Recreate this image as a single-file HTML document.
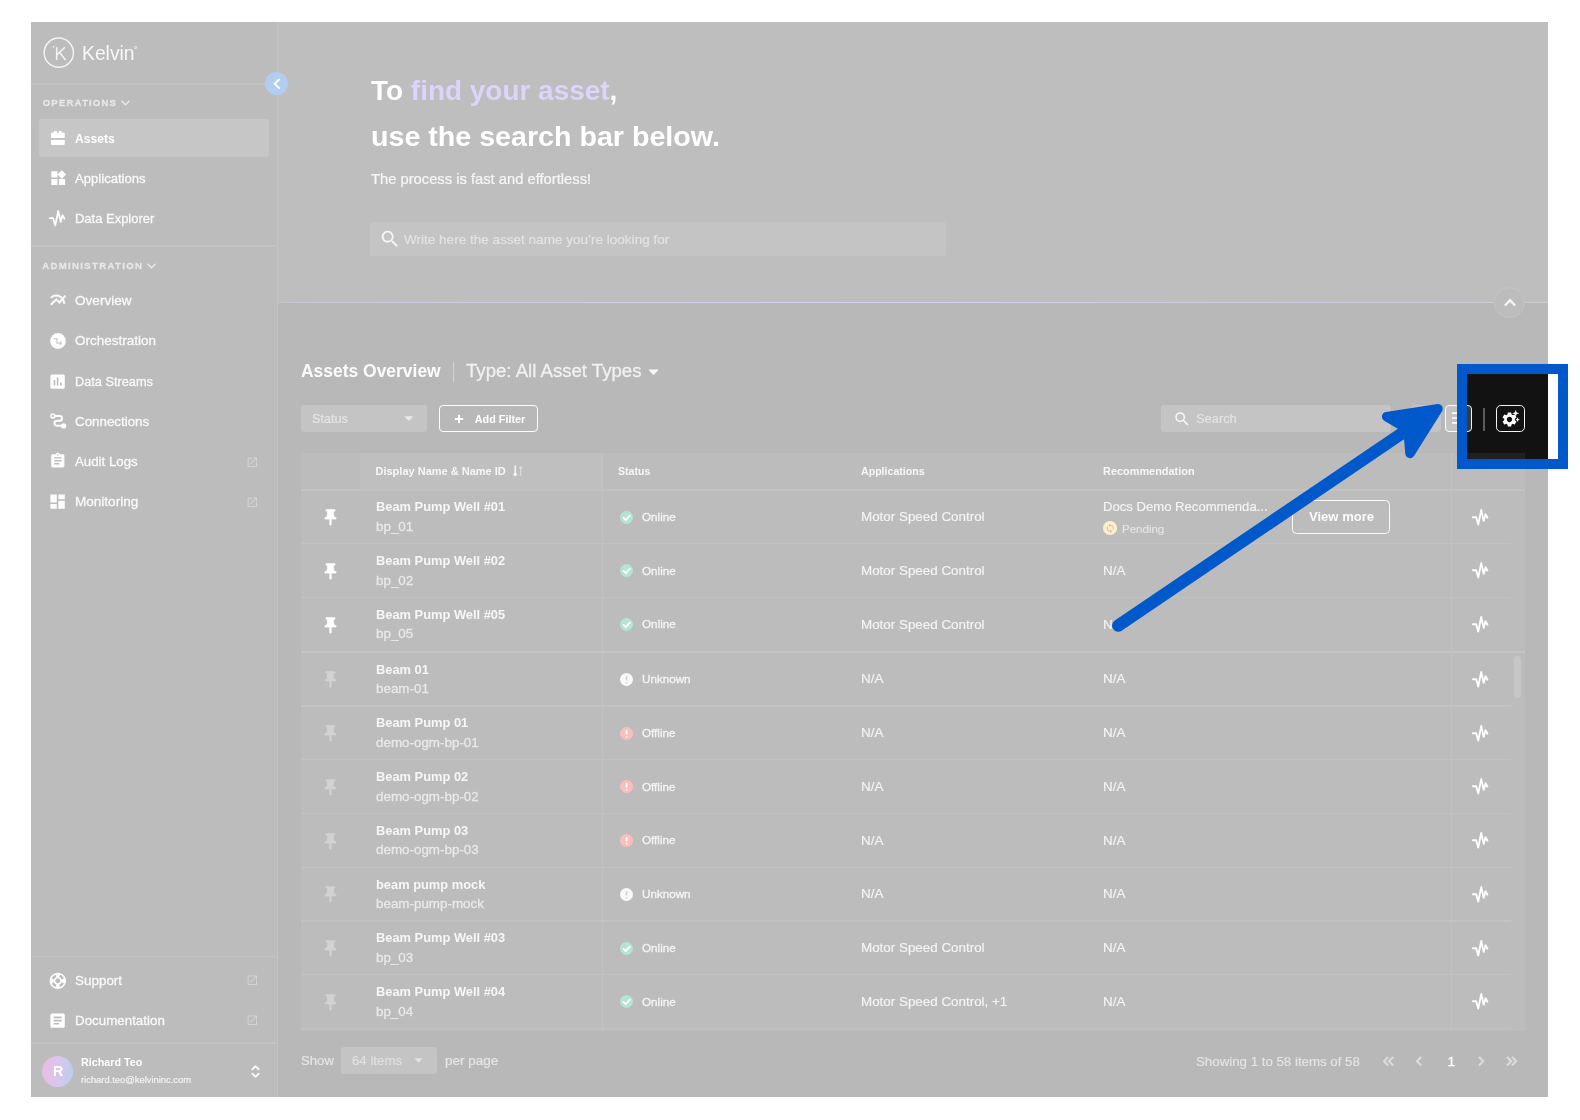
<!DOCTYPE html>
<html lang="en"><head><meta charset="utf-8"><title>Kelvin - Assets Overview</title>
<style>
html,body{margin:0;padding:0;background:#fff;}
body{width:1580px;height:1120px;position:relative;overflow:hidden;font-family:"Liberation Sans",sans-serif;}
#app{position:absolute;left:31px;top:22px;width:1517px;height:1075px;overflow:hidden;z-index:0;}
#in{position:absolute;left:-31px;top:-22px;width:1580px;height:1120px;will-change:transform;filter:blur(.42px);}
.a{position:absolute;display:block;}
.t{position:absolute;display:block;white-space:nowrap;transform-origin:0 50%;}
</style></head>
<body>
<div id="app"><div id="in">
<div class="a" style="left:31.00px;top:22.00px;width:1517.00px;height:1075.00px;background:#121212;"></div>
<div class="a" style="left:278.00px;top:22.00px;width:1270.00px;height:280.50px;background:#272727;"></div>
<div class="a" style="left:278.00px;top:301.90px;width:1270.00px;height:1.50px;background:linear-gradient(90deg,rgba(125,115,200,.3) 0%,rgba(125,105,230,.7) 15%,rgba(125,105,230,.9) 50%,rgba(125,105,230,.6) 80%,rgba(130,125,170,.5) 94%,rgba(130,130,130,.5) 100%);"></div>
<div class="a" style="left:31.00px;top:22.00px;width:246.00px;height:1075.00px;background:#1f1f1f;"></div>
<div class="a" style="left:276.90px;top:22.00px;width:1.60px;height:1075.00px;background:#383838;"></div>
<div class="a" style="left:31.00px;top:83.10px;width:246.00px;height:1.60px;background:#343434;"></div>
<div class="a" style="left:31.00px;top:245.30px;width:246.00px;height:1.60px;background:#343434;"></div>
<div class="a" style="left:31.00px;top:955.50px;width:246.00px;height:1.60px;background:#343434;"></div>
<div class="a" style="left:31.00px;top:1042.30px;width:246.00px;height:1.60px;background:#343434;"></div>
<svg class="a" style="left:40.00px;top:34.00px;opacity:.82;" width="40.00" height="40.00" viewBox="0 0 40 40"><circle cx="18.8" cy="18.7" r="14.6" fill="none" stroke="#fff" stroke-width="1.45"/><path d="M16.7 13.2V25.9M17 20.8L24.9 13.2M19.6 18.6L25.5 25.9" fill="none" stroke="#fff" stroke-width="1.55"/><circle cx="13.6" cy="12.9" r=".8" fill="#fff"/></svg>
<span class="t" style="left:82.00px;top:39.07px;font-size:20.8px;line-height:27.04px;color:#e6e6e6;transform:scaleX(0.9284);-webkit-text-stroke:0;">Kelvin</span>
<div class="a" style="left:134.20px;top:46.20px;width:2.60px;height:2.60px;border-radius:50%;border:.7px solid #d0d0d0;box-sizing:border-box;"></div>
<div class="a" style="left:265.20px;top:72.00px;width:23.00px;height:23.00px;background:#0059cc;border-radius:50%;z-index:5;"></div>
<svg class="a" style="left:270.70px;top:77.50px;z-index:6;" width="12.00" height="12.00" viewBox="0 0 12 12"><path d="M8.100 1.500L3.700 5.800l4.400 4.300" fill="none" stroke="#fff" stroke-width="1.900" stroke-linecap="round" stroke-linejoin="round"/></svg>
<span class="t" style="left:42.70px;top:97.43px;font-size:9.6px;line-height:12.48px;color:#b2b2b2;font-weight:700;letter-spacing:1.171px;-webkit-text-stroke:.3px #b2b2b2;">OPERATIONS</span>
<svg class="a" style="left:121.00px;top:100.20px;" width="9.00" height="7.00" viewBox="0 0 9 7"><path d="M1 1.300l3.500 3.500L8 1.300" fill="none" stroke="#b2b2b2" stroke-width="1.5" stroke-linecap="round" stroke-linejoin="round"/></svg>
<span class="t" style="left:42.30px;top:259.73px;font-size:9.6px;line-height:12.48px;color:#b2b2b2;font-weight:700;letter-spacing:1.317px;-webkit-text-stroke:.3px #b2b2b2;">ADMINISTRATION</span>
<svg class="a" style="left:146.60px;top:262.50px;" width="9.00" height="7.00" viewBox="0 0 9 7"><path d="M1 1.300l3.500 3.500L8 1.300" fill="none" stroke="#b2b2b2" stroke-width="1.5" stroke-linecap="round" stroke-linejoin="round"/></svg>
<div class="a" style="left:38.50px;top:118.80px;width:230.60px;height:38.50px;background:#404040;border-radius:3.5px;"></div>
<span class="t" style="left:75.30px;top:129.55px;font-size:13.7px;line-height:17.81px;color:#fff;font-weight:700;transform:scaleX(0.8835);">Assets</span>
<span class="t" style="left:75.30px;top:169.85px;font-size:13.7px;line-height:17.81px;color:#ececec;transform:scaleX(0.9570);-webkit-text-stroke:.3px #ececec;">Applications</span>
<span class="t" style="left:75.30px;top:210.35px;font-size:13.7px;line-height:17.81px;color:#ececec;transform:scaleX(0.9479);-webkit-text-stroke:.3px #ececec;">Data Explorer</span>
<span class="t" style="left:75.30px;top:291.95px;font-size:13.7px;line-height:17.81px;color:#ececec;transform:scaleX(0.9931);-webkit-text-stroke:.3px #ececec;">Overview</span>
<span class="t" style="left:75.30px;top:332.35px;font-size:13.7px;line-height:17.81px;color:#ececec;transform:scaleX(0.9850);-webkit-text-stroke:.3px #ececec;">Orchestration</span>
<span class="t" style="left:75.30px;top:372.55px;font-size:13.7px;line-height:17.81px;color:#ececec;transform:scaleX(0.9313);-webkit-text-stroke:.3px #ececec;">Data Streams</span>
<span class="t" style="left:75.30px;top:412.95px;font-size:13.7px;line-height:17.81px;color:#ececec;transform:scaleX(0.9742);-webkit-text-stroke:.3px #ececec;">Connections</span>
<span class="t" style="left:75.30px;top:453.15px;font-size:13.7px;line-height:17.81px;color:#ececec;transform:scaleX(0.9700);-webkit-text-stroke:.3px #ececec;">Audit Logs</span>
<span class="t" style="left:75.30px;top:493.35px;font-size:13.7px;line-height:17.81px;color:#ececec;transform:scaleX(0.9896);-webkit-text-stroke:.3px #ececec;">Monitoring</span>
<span class="t" style="left:75.30px;top:971.65px;font-size:13.7px;line-height:17.81px;color:#ececec;transform:scaleX(0.9816);-webkit-text-stroke:.3px #ececec;">Support</span>
<span class="t" style="left:75.30px;top:1011.75px;font-size:13.7px;line-height:17.81px;color:#ececec;transform:scaleX(0.9756);-webkit-text-stroke:.3px #ececec;">Documentation</span>
<svg class="a" style="left:51.00px;top:131.00px;" width="13.75" height="14.00" viewBox="0 0 13.750 14"><path fill="#fff" d="M0.600 1.750H2.300L3 0.100H5.500L6.900 2.900 8.300 0.100H10.700L11.400 1.750H13.150a.6.600 0 0 1 .6.600V7H0V2.350a.6.600 0 0 1 .6-.6zM0 8.900H13.750V13a1 1 0 0 1-1 1H1a1 1 0 0 1-1-1z"/></svg>
<svg class="a" style="left:48.80px;top:169.00px;" width="18.40" height="18.40" viewBox="0 0 24 24"><path fill="#fbfbfb" d="M13 13v8h8v-8h-8zM3 21h8v-8H3v8zM3 3v8h8V3H3zm13.66-1.31L11 7.34 16.66 13l5.66-5.66-5.66-5.65z"/></svg>
<svg class="a" style="left:48.40px;top:209.30px;" width="19.00" height="19.00" viewBox="0 0 20 20"><path d="M2 9.700H5.450L7.600 17.400 10.800 2.100 13.300 13.600 15.300 6.450 17.300 10.200" fill="none" stroke="#fbfbfb" stroke-width="1.9" stroke-linecap="round" stroke-linejoin="round"/></svg>
<svg class="a" style="left:48.80px;top:291.40px;" width="18.40" height="18.40" viewBox="0 0 24 24"><path fill="#fbfbfb" stroke="#fbfbfb" stroke-width=".7" d="M22 6.920l-1.410-1.410-2.850 3.210C15.680 6.400 12.830 5 9.610 5 6.720 5 4.070 6.160 2 8l1.420 1.420C5.120 7.930 7.270 7 9.610 7c2.740 0 5.090 1.260 6.770 3.240l-2.880 3.240-4-4L2 16.990l1.500 1.500 6-6.010 4 4 4.050-4.550c.75 1.350 1.250 2.900 1.440 4.550H21c-.22-2.300-.95-4.390-2.040-6.140L22 6.920z"/></svg>
<svg class="a" style="left:50.00px;top:333.00px;" width="16.00" height="16.00" viewBox="0 0 16 16"><circle cx="8" cy="8" r="7.900" fill="#fbfbfb"/><path d="M3.700 5.600H7V10.200H11.300M9.900 8.600l1.600 1.600-1.600 1.600" fill="none" stroke="#5a5a5a" stroke-width="1.250" stroke-linejoin="round"/></svg>
<svg class="a" style="left:48.40px;top:371.60px;" width="19.20" height="19.20" viewBox="0 0 24 24"><path fill="#fbfbfb" d="M19 3H5c-1.1 0-2 .9-2 2v14c0 1.1.9 2 2 2h14c1.1 0 2-.9 2-2V5c0-1.1-.9-2-2-2zM9 17H7v-7h2v7zm4 0h-2V7h2v10zm4 0h-2v-4h2v4z"/></svg>
<svg class="a" style="left:49.50px;top:413.40px;" width="17.00" height="17.00" viewBox="0 0 17 17"><circle cx="2.900" cy="3" r="1.900" fill="none" stroke="#fbfbfb" stroke-width="1.500"/><path d="M4.800 3H9.600a2.400 2.400 0 0 1 0 4.800H7a2.500 2.500 0 0 0 0 5h4.500" fill="none" stroke="#fbfbfb" stroke-width="1.900"/><circle cx="13.600" cy="12.900" r="2.700" fill="#fbfbfb"/></svg>
<svg class="a" style="left:49.20px;top:452.20px;" width="17.60" height="17.60" viewBox="0 0 24 24"><path fill="#fbfbfb" d="M19 3h-4.18C14.4 1.84 13.3 1 12 1c-1.3 0-2.4.84-2.82 2H5c-1.1 0-2 .9-2 2v14c0 1.1.9 2 2 2h14c1.1 0 2-.9 2-2V5c0-1.1-.9-2-2-2zm-7 0c.55 0 1 .45 1 1s-.45 1-1 1-1-.45-1-1 .45-1 1-1zm2 14H7v-2h7v2zm3-4H7v-2h10v2zm0-4H7V7h10v2z"/></svg>
<svg class="a" style="left:48.40px;top:492.40px;" width="19.20" height="19.20" viewBox="0 0 24 24"><path fill="#fbfbfb" d="M3 13h8V3H3v10zm0 8h8v-6H3v6zm10 0h8V11h-8v10zm0-18v6h8V3h-8z"/></svg>
<svg class="a" style="left:48.10px;top:970.50px;" width="19.60" height="19.60" viewBox="0 0 24 24"><path fill="#fbfbfb" d="M12 2C6.48 2 2 6.48 2 12s4.48 10 10 10 10-4.48 10-10S17.52 2 12 2zm7.46 7.12l-2.78 1.15c-.51-1.36-1.58-2.44-2.95-2.94l1.15-2.78c2.1.8 3.77 2.47 4.58 4.57zM12 15c-1.66 0-3-1.34-3-3s1.34-3 3-3 3 1.34 3 3-1.34 3-3 3zM9.13 4.54l1.17 2.78c-1.38.5-2.47 1.59-2.98 2.97L4.54 9.13c.81-2.11 2.48-3.78 4.59-4.59zM4.54 14.87l2.78-1.15c.51 1.38 1.59 2.46 2.97 2.96l-1.17 2.78c-2.1-.81-3.77-2.48-4.58-4.59zm10.34 4.59l-1.15-2.78c1.37-.51 2.45-1.59 2.95-2.97l2.78 1.17c-.81 2.1-2.48 3.77-4.58 4.58z"/></svg>
<svg class="a" style="left:48.40px;top:1010.70px;" width="19.20" height="19.20" viewBox="0 0 24 24"><path fill="#fbfbfb" d="M19 3H5c-1.1 0-2 .9-2 2v14c0 1.1.9 2 2 2h14c1.1 0 2-.9 2-2V5c0-1.1-.9-2-2-2zm-5 14H7v-2h7v2zm3-4H7v-2h10v2zm0-4H7V7h10v2z"/></svg>
<svg class="a" style="left:245.90px;top:455.50px;" width="12.60" height="12.60" viewBox="0 0 24 24"><path fill="#707070" d="M19 19H5V5h7V3H5c-1.11 0-2 .9-2 2v14c0 1.1.89 2 2 2h14c1.1 0 2-.9 2-2v-7h-2v7zM14 3v2h3.59l-9.83 9.83 1.41 1.41L19 6.41V10h2V3h-7z"/></svg>
<svg class="a" style="left:245.90px;top:495.70px;" width="12.60" height="12.60" viewBox="0 0 24 24"><path fill="#707070" d="M19 19H5V5h7V3H5c-1.11 0-2 .9-2 2v14c0 1.1.89 2 2 2h14c1.1 0 2-.9 2-2v-7h-2v7zM14 3v2h3.59l-9.83 9.83 1.41 1.41L19 6.41V10h2V3h-7z"/></svg>
<svg class="a" style="left:245.90px;top:974.00px;" width="12.60" height="12.60" viewBox="0 0 24 24"><path fill="#707070" d="M19 19H5V5h7V3H5c-1.11 0-2 .9-2 2v14c0 1.1.89 2 2 2h14c1.1 0 2-.9 2-2v-7h-2v7zM14 3v2h3.59l-9.83 9.83 1.41 1.41L19 6.41V10h2V3h-7z"/></svg>
<svg class="a" style="left:245.90px;top:1014.10px;" width="12.60" height="12.60" viewBox="0 0 24 24"><path fill="#707070" d="M19 19H5V5h7V3H5c-1.11 0-2 .9-2 2v14c0 1.1.89 2 2 2h14c1.1 0 2-.9 2-2v-7h-2v7zM14 3v2h3.59l-9.83 9.83 1.41 1.41L19 6.41V10h2V3h-7z"/></svg>
<div class="a" style="left:42.10px;top:1055.70px;width:31.00px;height:31.00px;border-radius:50%;background:linear-gradient(95deg,#bc1aaa 0%,#8440bc 50%,#1456d0 100%);"></div>
<span class="t" style="left:52.90px;top:1062.05px;font-size:14.2px;line-height:18.46px;color:#fff;font-weight:700;">R</span>
<span class="t" style="left:81.00px;top:1055.24px;font-size:11px;line-height:14.3px;color:#fff;font-weight:700;transform:scaleX(0.9769);">Richard Teo</span>
<span class="t" style="left:81.00px;top:1074.83px;font-size:9.2px;line-height:11.96px;color:#d8d8d8;-webkit-text-stroke:.22px #d8d8d8;transform:scaleX(1.0192);">richard.teo@kelvininc.com</span>
<svg class="a" style="left:250.40px;top:1063.80px;" width="11.00" height="15.00" viewBox="0 0 11 15"><path d="M2.300 5.400L5.500 2.200l3.200 3.200M2.300 9.600l3.200 3.200 3.200-3.200" fill="none" stroke="#f0f0f0" stroke-width="1.800" stroke-linecap="round" stroke-linejoin="round"/></svg>
<span class="t" style="left:370.6px;top:72.90px;font-size:27.6px;line-height:35.88px;color:#fff;font-weight:700;transform:scaleX(1.0126);">To <span style="color:#8f6bf3">find your asset</span>,</span>
<span class="t" style="left:370.60px;top:119.00px;font-size:27.6px;line-height:35.88px;color:#fff;font-weight:700;transform:scaleX(1.0374);">use the search bar below.</span>
<span class="t" style="left:370.60px;top:170.15px;font-size:14.2px;line-height:18.46px;color:#e2e2e2;-webkit-text-stroke:.22px #e2e2e2;transform:scaleX(1.0389);">The process is fast and effortless!</span>
<div class="a" style="left:370.20px;top:221.60px;width:575.80px;height:34.50px;background:#3a3a3a;border-radius:3px;"></div>
<svg class="a" style="left:378.90px;top:228.30px;" width="22.00" height="22.00" viewBox="0 0 24 24"><path fill="#dedede" d="M15.5 14h-.79l-.28-.27C15.41 12.59 16 11.11 16 9.5 16 5.91 13.09 3 9.5 3S3 5.91 3 9.5 5.91 16 9.5 16c1.61 0 3.09-.59 4.23-1.57l.27.28v.79l5 4.99L20.49 19l-4.99-5zm-6 0C7.01 14 5 11.99 5 9.5S7.01 5 9.5 5 14 7.01 14 9.5 11.99 14 9.5 14z"/></svg>
<span class="t" style="left:403.50px;top:231.74px;font-size:12.8px;line-height:16.64px;color:#a2a2a2;-webkit-text-stroke:.22px #a2a2a2;transform:scaleX(1.0573);">Write here the asset name you’re looking for</span>
<div class="a" style="left:1494.10px;top:287.00px;width:30.80px;height:30.80px;background:#1f1f1f;border-radius:50%;border:1.100px solid #383838;box-sizing:border-box;"></div>
<svg class="a" style="left:1502.50px;top:297.00px;" width="14.00" height="11.00" viewBox="0 0 14 11"><path d="M1.900 8.500L7 3.300l5.100 5.200" fill="none" stroke="#dcdcdc" stroke-width="2.400"/></svg>
<span class="t" style="left:300.90px;top:360.26px;font-size:17.6px;line-height:22.88px;color:#f2f2f2;font-weight:700;transform:scaleX(0.9916);">Assets Overview</span>
<div class="a" style="left:452.60px;top:362.00px;width:1.40px;height:19.50px;background:#666666;"></div>
<span class="t" style="left:465.70px;top:359.86px;font-size:18px;line-height:23.4px;color:#d0d0d0;transform:scaleX(1.0338);-webkit-text-stroke:.3px #d0d0d0;">Type: All Asset Types</span>
<svg class="a" style="left:647.80px;top:368.90px;" width="11.00" height="6.60" viewBox="0 0 10 6"><path d="M0.300 0.400h9.400L5 5.600z" fill="#ececec"/></svg>
<div class="a" style="left:300.90px;top:405.20px;width:126.50px;height:26.40px;background:#3a3a3a;border-radius:3px;"></div>
<span class="t" style="left:311.50px;top:410.54px;font-size:12.4px;line-height:16.12px;color:#aaaaaa;-webkit-text-stroke:.22px #aaaaaa;transform:scaleX(1.0155);">Status</span>
<svg class="a" style="left:404.40px;top:416.40px;" width="9.60" height="5.40" viewBox="0 0 9 5"><path d="M0.300 0.300h8.400L4.500 4.700z" fill="#b4b4b4"/></svg>
<div class="a" style="left:439.00px;top:404.90px;width:99.00px;height:26.80px;border:1.600px solid #f6f6f6;border-radius:4px;box-sizing:border-box;"></div>
<svg class="a" style="left:454.40px;top:413.60px;" width="10.00" height="10.00" viewBox="0 0 10 10"><path d="M5 0.800v8.400M0.800 5h8.400" stroke="#fff" stroke-width="1.900" fill="none"/></svg>
<span class="t" style="left:474.80px;top:411.64px;font-size:10.8px;line-height:14.04px;color:#fff;font-weight:700;">Add Filter</span>
<div class="a" style="left:1160.80px;top:405.20px;width:230.40px;height:26.60px;background:#3a3a3a;border-radius:3px;"></div>
<svg class="a" style="left:1172.70px;top:409.70px;" width="18.20" height="18.20" viewBox="0 0 24 24"><path fill="#e2e2e2" d="M15.5 14h-.79l-.28-.27C15.41 12.59 16 11.11 16 9.5 16 5.91 13.09 3 9.5 3S3 5.91 3 9.5 5.91 16 9.5 16c1.61 0 3.09-.59 4.23-1.57l.27.28v.79l5 4.99L20.49 19l-4.99-5zm-6 0C7.01 14 5 11.99 5 9.5S7.01 5 9.5 5 14 7.01 14 9.5 11.99 14 9.5 14z"/></svg>
<span class="t" style="left:1196.20px;top:410.05px;font-size:13.4px;line-height:17.42px;color:#a2a2a2;-webkit-text-stroke:.22px #a2a2a2;transform:scaleX(0.9609);">Search</span>
<div class="a" style="left:1401.60px;top:409.00px;width:1.00px;height:20.00px;background:#4a4a4a;"></div>
<div class="a" style="left:1411.00px;top:405.00px;width:30.20px;height:27.00px;background:#3a3a3a;border-radius:3.500px;"></div>
<div class="a" style="left:1445.20px;top:404.60px;width:27.00px;height:27.40px;background:#3b3b3b;border:1.300px solid #f4f4f4;border-radius:4px;box-sizing:border-box;"></div>
<svg class="a" style="left:1451.00px;top:411.40px;" width="15.00" height="14.00" viewBox="0 0 15 14"><path d="M1 2.200h13M1 7h13M1 11.800h13" stroke="#fff" stroke-width="1.700" fill="none"/></svg>
<div class="a" style="left:1483.20px;top:407.60px;width:1.50px;height:23.20px;background:#5c5c5c;"></div>
<div class="a" style="left:1496.00px;top:404.70px;width:29.40px;height:27.60px;border:1.600px solid #f4f4f4;border-radius:4.800px;box-sizing:border-box;"></div>
<svg class="a" style="left:1501.50px;top:412.40px;" width="15.00" height="15.00" viewBox="1.800 1.800 20.400 20.400"><path fill="#fff" d="M19.14 12.94c.04-.3.06-.61.06-.94 0-.32-.02-.64-.07-.94l2.03-1.58c.18-.14.23-.41.12-.61l-1.92-3.32c-.12-.22-.37-.29-.59-.22l-2.39.96c-.5-.38-1.03-.7-1.62-.94l-.36-2.54c-.04-.24-.24-.41-.48-.41h-3.84c-.24 0-.43.17-.47.41l-.36 2.54c-.59.24-1.13.57-1.62.94l-2.39-.96c-.22-.08-.47 0-.59.22L2.74 8.87c-.12.21-.08.47.12.61l2.03 1.58c-.05.3-.09.63-.09.94s.02.64.07.94l-2.03 1.58c-.18.14-.23.41-.12.61l1.92 3.32c.12.22.37.29.59.22l2.39-.96c.5.38 1.03.7 1.62.94l.36 2.54c.05.24.24.41.48.41h3.84c.24 0 .44-.17.47-.41l.36-2.54c.59-.24 1.13-.56 1.62-.94l2.39.96c.22.08.47 0 .59-.22l1.92-3.32c.12-.22.07-.47-.12-.61l-2.01-1.58zM12 15.6c-1.98 0-3.600-1.62-3.600-3.600s1.62-3.600 3.600-3.600 3.600 1.62 3.600 3.600-1.62 3.600-3.600 3.600z"/></svg>
<svg class="a" style="left:1500px;top:405px" width="26" height="26" viewBox="1500 405 26 26"><polygon fill="#fff" points="1515.70,409.80 1516.59,412.41 1519.20,413.30 1516.59,414.19 1515.70,416.80 1514.81,414.19 1512.20,413.30 1514.81,412.41"/><polygon fill="#fff" points="1517.60,417.30 1518.28,418.92 1519.90,419.60 1518.28,420.28 1517.60,421.90 1516.92,420.28 1515.30,419.60 1516.92,418.92"/></svg>
<div class="a" style="left:300.70px;top:452.80px;width:1224.50px;height:578.60px;background:#1e1e1e;"></div>
<div class="a" style="left:300.70px;top:452.80px;width:1224.50px;height:37.10px;background:#202020;"></div>
<div class="a" style="left:360.30px;top:452.80px;width:242.00px;height:37.10px;background:#292929;"></div>
<div class="a" style="left:300.70px;top:489.30px;width:1224.50px;height:1.40px;background:#353535;"></div>
<div class="a" style="left:300.70px;top:543.05px;width:1210.10px;height:1.40px;background:#353535;"></div>
<div class="a" style="left:300.70px;top:596.80px;width:1210.10px;height:1.40px;background:#353535;"></div>
<div class="a" style="left:300.70px;top:650.55px;width:1224.50px;height:2.40px;background:#3d3d3d;"></div>
<div class="a" style="left:300.70px;top:705.30px;width:1210.10px;height:1.40px;background:#353535;"></div>
<div class="a" style="left:300.70px;top:759.05px;width:1210.10px;height:1.40px;background:#353535;"></div>
<div class="a" style="left:300.70px;top:812.80px;width:1210.10px;height:1.40px;background:#353535;"></div>
<div class="a" style="left:300.70px;top:866.55px;width:1210.10px;height:1.40px;background:#353535;"></div>
<div class="a" style="left:300.70px;top:920.30px;width:1210.10px;height:1.40px;background:#353535;"></div>
<div class="a" style="left:300.70px;top:974.05px;width:1210.10px;height:1.40px;background:#353535;"></div>
<div class="a" style="left:300.70px;top:1027.80px;width:1210.10px;height:1.40px;background:#353535;"></div>
<div class="a" style="left:602.00px;top:452.80px;width:1.00px;height:578.60px;background:#353535;"></div>
<div class="a" style="left:1451.40px;top:452.80px;width:1.00px;height:578.60px;background:#353535;"></div>
<div class="a" style="left:1514.30px;top:656.00px;width:6.80px;height:41.60px;background:#424242;border-radius:3.400px;"></div>
<span class="t" style="left:375.50px;top:464.24px;font-size:11px;line-height:14.3px;color:#e4e4e4;font-weight:700;">Display Name &amp; Name ID</span>
<svg class="a" style="left:511.80px;top:465.40px;" width="12.00" height="12.00" viewBox="0 0 12 12"><path d="M3.200 0.600v9.800M1.500 8.700l1.700 1.800 1.700-1.800" fill="none" stroke="#f4f4f4" stroke-width="1.350"/><path d="M8.600 11.200V1.600M7.100 3.300l1.500-1.700 1.500 1.700" fill="none" stroke="#8a8a8a" stroke-width="1.100"/></svg>
<span class="t" style="left:618.40px;top:464.24px;font-size:11px;line-height:14.3px;color:#e4e4e4;font-weight:700;transform:scaleX(0.9607);">Status</span>
<span class="t" style="left:860.60px;top:464.24px;font-size:11px;line-height:14.3px;color:#e4e4e4;font-weight:700;transform:scaleX(0.9635);">Applications</span>
<span class="t" style="left:1102.70px;top:464.24px;font-size:11px;line-height:14.3px;color:#e4e4e4;font-weight:700;transform:scaleX(0.9925);">Recommendation</span>
<svg class="a" style="left:321.30px;top:508.20px;" width="19.00" height="19.00" viewBox="0 0 24 24"><path fill="#ffffff" stroke="#ffffff" stroke-width=".8" stroke-linejoin="round" d="M16 9V4h1c.55 0 1-.45 1-1s-.45-1-1-1H7c-.55 0-1 .45-1 1s.45 1 1 1h1v5c0 1.66-1.34 3-3 3v2h5.97v7l1 1 1-1v-7H19v-2c-1.66 0-3-1.34-3-3z"/></svg>
<span class="t" style="left:375.50px;top:499.25px;font-size:13px;line-height:16.9px;color:#e4e4e4;font-weight:700;transform:scaleX(0.9890);">Beam Pump Well #01</span>
<span class="t" style="left:375.50px;top:518.85px;font-size:13px;line-height:16.9px;color:#b6b6b6;transform:scaleX(1.0304);-webkit-text-stroke:.35px #b6b6b6;">bp_01</span>
<div class="a" style="left:619.50px;top:510.50px;width:13.20px;height:13.20px;background:#08a868;border-radius:50%;"></div>
<svg class="a" style="left:619.50px;top:510.50px;" width="13.20" height="13.20" viewBox="0 0 13.200 13.200"><path d="M3.500 6.900l2.200 2.200 4.200-4.400" fill="none" stroke="#fff" stroke-width="1.700" stroke-linecap="round" stroke-linejoin="round"/></svg>
<span class="t" style="left:641.90px;top:509.84px;font-size:11.5px;line-height:14.95px;color:#dcdcdc;transform:scaleX(1.0137);-webkit-text-stroke:.35px #dcdcdc;">Online</span>
<span class="t" style="left:860.60px;top:509.15px;font-size:13px;line-height:16.9px;color:#dadada;-webkit-text-stroke:.22px #dadada;transform:scaleX(1.0304);">Motor Speed Control</span>
<span class="t" style="left:1102.70px;top:499.25px;font-size:13px;line-height:16.9px;color:#dadada;-webkit-text-stroke:.22px #dadada;transform:scaleX(1.0081);">Docs Demo Recommenda...</span>
<div class="a" style="left:1103.40px;top:521.30px;width:13.50px;height:13.50px;background:#ffc648;border-radius:50%;"></div>
<svg class="a" style="left:1104.95px;top:522.85px;" width="10.40" height="10.40" viewBox="0 0 24 24"><path fill="#2a2a2a" d="M12 4V1L8 5l4 4V6c3.310 0 6 2.690 6 6 0 1.010-.25 1.970-.7 2.800l1.460 1.460C19.540 15.030 20 13.570 20 12c0-4.420-3.580-8-8-8zm0 14c-3.310 0-6-2.690-6-6 0-1.010.25-1.970.7-2.800L5.240 7.740C4.460 8.970 4 10.430 4 12c0 4.420 3.580 8 8 8v3l4-4-4-4v3z"/></svg>
<span class="t" style="left:1121.80px;top:520.64px;font-size:11.6px;line-height:15.08px;color:#a8a8a8;-webkit-text-stroke:.22px #a8a8a8;transform:scaleX(0.9936);">Pending</span>
<div class="a" style="left:1292.30px;top:499.90px;width:98.00px;height:34.60px;border:1.500px solid #eeeeee;border-radius:4.500px;box-sizing:border-box;"></div>
<span class="t" style="left:1308.90px;top:508.75px;font-size:13px;line-height:16.9px;color:#f2f2f2;font-weight:700;transform:scaleX(1.0048);">View more</span>
<svg class="a" style="left:1471.30px;top:507.70px;" width="19.00" height="19.00" viewBox="0 0 20 20"><path d="M2 9.700H5.450L7.600 17.400 10.800 2.100 13.300 13.600 15.300 6.450 17.300 10.200" fill="none" stroke="#fbfbfb" stroke-width="1.95" stroke-linecap="round" stroke-linejoin="round"/></svg>
<svg class="a" style="left:321.30px;top:561.95px;" width="19.00" height="19.00" viewBox="0 0 24 24"><path fill="#ffffff" stroke="#ffffff" stroke-width=".8" stroke-linejoin="round" d="M16 9V4h1c.55 0 1-.45 1-1s-.45-1-1-1H7c-.55 0-1 .45-1 1s.45 1 1 1h1v5c0 1.66-1.34 3-3 3v2h5.97v7l1 1 1-1v-7H19v-2c-1.66 0-3-1.34-3-3z"/></svg>
<span class="t" style="left:375.50px;top:553.00px;font-size:13px;line-height:16.9px;color:#e4e4e4;font-weight:700;transform:scaleX(0.9890);">Beam Pump Well #02</span>
<span class="t" style="left:375.50px;top:572.60px;font-size:13px;line-height:16.9px;color:#b6b6b6;transform:scaleX(1.0304);-webkit-text-stroke:.35px #b6b6b6;">bp_02</span>
<div class="a" style="left:619.50px;top:564.25px;width:13.20px;height:13.20px;background:#08a868;border-radius:50%;"></div>
<svg class="a" style="left:619.50px;top:564.25px;" width="13.20" height="13.20" viewBox="0 0 13.200 13.200"><path d="M3.500 6.900l2.200 2.200 4.200-4.400" fill="none" stroke="#fff" stroke-width="1.700" stroke-linecap="round" stroke-linejoin="round"/></svg>
<span class="t" style="left:641.90px;top:563.59px;font-size:11.5px;line-height:14.95px;color:#dcdcdc;transform:scaleX(1.0137);-webkit-text-stroke:.35px #dcdcdc;">Online</span>
<span class="t" style="left:860.60px;top:562.90px;font-size:13px;line-height:16.9px;color:#dadada;-webkit-text-stroke:.22px #dadada;transform:scaleX(1.0304);">Motor Speed Control</span>
<span class="t" style="left:1102.70px;top:562.90px;font-size:13px;line-height:16.9px;color:#dadada;-webkit-text-stroke:.22px #dadada;transform:scaleX(1.0304);">N/A</span>
<svg class="a" style="left:1471.30px;top:561.45px;" width="19.00" height="19.00" viewBox="0 0 20 20"><path d="M2 9.700H5.450L7.600 17.400 10.800 2.100 13.300 13.600 15.300 6.450 17.300 10.200" fill="none" stroke="#fbfbfb" stroke-width="1.95" stroke-linecap="round" stroke-linejoin="round"/></svg>
<svg class="a" style="left:321.30px;top:615.70px;" width="19.00" height="19.00" viewBox="0 0 24 24"><path fill="#ffffff" stroke="#ffffff" stroke-width=".8" stroke-linejoin="round" d="M16 9V4h1c.55 0 1-.45 1-1s-.45-1-1-1H7c-.55 0-1 .45-1 1s.45 1 1 1h1v5c0 1.66-1.34 3-3 3v2h5.97v7l1 1 1-1v-7H19v-2c-1.66 0-3-1.34-3-3z"/></svg>
<span class="t" style="left:375.50px;top:606.75px;font-size:13px;line-height:16.9px;color:#e4e4e4;font-weight:700;transform:scaleX(0.9890);">Beam Pump Well #05</span>
<span class="t" style="left:375.50px;top:626.35px;font-size:13px;line-height:16.9px;color:#b6b6b6;transform:scaleX(1.0304);-webkit-text-stroke:.35px #b6b6b6;">bp_05</span>
<div class="a" style="left:619.50px;top:618.00px;width:13.20px;height:13.20px;background:#08a868;border-radius:50%;"></div>
<svg class="a" style="left:619.50px;top:618.00px;" width="13.20" height="13.20" viewBox="0 0 13.200 13.200"><path d="M3.500 6.900l2.200 2.200 4.200-4.400" fill="none" stroke="#fff" stroke-width="1.700" stroke-linecap="round" stroke-linejoin="round"/></svg>
<span class="t" style="left:641.90px;top:617.34px;font-size:11.5px;line-height:14.95px;color:#dcdcdc;transform:scaleX(1.0137);-webkit-text-stroke:.35px #dcdcdc;">Online</span>
<span class="t" style="left:860.60px;top:616.65px;font-size:13px;line-height:16.9px;color:#dadada;-webkit-text-stroke:.22px #dadada;transform:scaleX(1.0304);">Motor Speed Control</span>
<span class="t" style="left:1102.70px;top:616.65px;font-size:13px;line-height:16.9px;color:#dadada;-webkit-text-stroke:.22px #dadada;transform:scaleX(1.0304);">N/A</span>
<svg class="a" style="left:1471.30px;top:615.20px;" width="19.00" height="19.00" viewBox="0 0 20 20"><path d="M2 9.700H5.450L7.600 17.400 10.800 2.100 13.300 13.600 15.300 6.450 17.300 10.200" fill="none" stroke="#fbfbfb" stroke-width="1.95" stroke-linecap="round" stroke-linejoin="round"/></svg>
<svg class="a" style="left:321.30px;top:670.45px;" width="19.00" height="19.00" viewBox="0 0 24 24"><path fill="#6a6a6a" stroke="#6a6a6a" stroke-width=".8" stroke-linejoin="round" d="M16 9V4h1c.55 0 1-.45 1-1s-.45-1-1-1H7c-.55 0-1 .45-1 1s.45 1 1 1h1v5c0 1.66-1.34 3-3 3v2h5.97v7l1 1 1-1v-7H19v-2c-1.66 0-3-1.34-3-3z"/></svg>
<span class="t" style="left:375.50px;top:661.50px;font-size:13px;line-height:16.9px;color:#e4e4e4;font-weight:700;transform:scaleX(0.9890);">Beam 01</span>
<span class="t" style="left:375.50px;top:681.10px;font-size:13px;line-height:16.9px;color:#b6b6b6;transform:scaleX(1.0304);-webkit-text-stroke:.35px #b6b6b6;">beam-01</span>
<div class="a" style="left:619.50px;top:672.75px;width:13.20px;height:13.20px;background:#ececec;border-radius:50%;"></div>
<svg class="a" style="left:619.50px;top:672.75px;" width="13.20" height="13.20" viewBox="0 0 13.200 13.200"><path d="M6.600 3.300v4.200M6.600 9.300v1.300" fill="none" stroke="#6a6a6a" stroke-width="1.700"/></svg>
<span class="t" style="left:641.90px;top:672.09px;font-size:11.5px;line-height:14.95px;color:#dcdcdc;transform:scaleX(1.0137);-webkit-text-stroke:.35px #dcdcdc;">Unknown</span>
<span class="t" style="left:860.60px;top:671.40px;font-size:13px;line-height:16.9px;color:#dadada;-webkit-text-stroke:.22px #dadada;transform:scaleX(1.0304);">N/A</span>
<span class="t" style="left:1102.70px;top:671.40px;font-size:13px;line-height:16.9px;color:#dadada;-webkit-text-stroke:.22px #dadada;transform:scaleX(1.0304);">N/A</span>
<svg class="a" style="left:1471.30px;top:669.95px;" width="19.00" height="19.00" viewBox="0 0 20 20"><path d="M2 9.700H5.450L7.600 17.400 10.800 2.100 13.300 13.600 15.300 6.450 17.300 10.200" fill="none" stroke="#fbfbfb" stroke-width="1.95" stroke-linecap="round" stroke-linejoin="round"/></svg>
<svg class="a" style="left:321.30px;top:724.20px;" width="19.00" height="19.00" viewBox="0 0 24 24"><path fill="#6a6a6a" stroke="#6a6a6a" stroke-width=".8" stroke-linejoin="round" d="M16 9V4h1c.55 0 1-.45 1-1s-.45-1-1-1H7c-.55 0-1 .45-1 1s.45 1 1 1h1v5c0 1.66-1.34 3-3 3v2h5.97v7l1 1 1-1v-7H19v-2c-1.66 0-3-1.34-3-3z"/></svg>
<span class="t" style="left:375.50px;top:715.25px;font-size:13px;line-height:16.9px;color:#e4e4e4;font-weight:700;transform:scaleX(0.9890);">Beam Pump 01</span>
<span class="t" style="left:375.50px;top:734.85px;font-size:13px;line-height:16.9px;color:#b6b6b6;transform:scaleX(1.0304);-webkit-text-stroke:.35px #b6b6b6;">demo-ogm-bp-01</span>
<div class="a" style="left:619.50px;top:726.50px;width:13.20px;height:13.20px;background:#ee2a1e;border-radius:50%;"></div>
<svg class="a" style="left:619.50px;top:726.50px;" width="13.20" height="13.20" viewBox="0 0 13.200 13.200"><path d="M6.600 3.300v4.200M6.600 9.300v1.300" fill="none" stroke="#fff" stroke-width="1.700"/></svg>
<span class="t" style="left:641.90px;top:725.84px;font-size:11.5px;line-height:14.95px;color:#dcdcdc;transform:scaleX(1.0137);-webkit-text-stroke:.35px #dcdcdc;">Offline</span>
<span class="t" style="left:860.60px;top:725.15px;font-size:13px;line-height:16.9px;color:#dadada;-webkit-text-stroke:.22px #dadada;transform:scaleX(1.0304);">N/A</span>
<span class="t" style="left:1102.70px;top:725.15px;font-size:13px;line-height:16.9px;color:#dadada;-webkit-text-stroke:.22px #dadada;transform:scaleX(1.0304);">N/A</span>
<svg class="a" style="left:1471.30px;top:723.70px;" width="19.00" height="19.00" viewBox="0 0 20 20"><path d="M2 9.700H5.450L7.600 17.400 10.800 2.100 13.300 13.600 15.300 6.450 17.300 10.200" fill="none" stroke="#fbfbfb" stroke-width="1.95" stroke-linecap="round" stroke-linejoin="round"/></svg>
<svg class="a" style="left:321.30px;top:777.95px;" width="19.00" height="19.00" viewBox="0 0 24 24"><path fill="#6a6a6a" stroke="#6a6a6a" stroke-width=".8" stroke-linejoin="round" d="M16 9V4h1c.55 0 1-.45 1-1s-.45-1-1-1H7c-.55 0-1 .45-1 1s.45 1 1 1h1v5c0 1.66-1.34 3-3 3v2h5.97v7l1 1 1-1v-7H19v-2c-1.66 0-3-1.34-3-3z"/></svg>
<span class="t" style="left:375.50px;top:769.00px;font-size:13px;line-height:16.9px;color:#e4e4e4;font-weight:700;transform:scaleX(0.9890);">Beam Pump 02</span>
<span class="t" style="left:375.50px;top:788.60px;font-size:13px;line-height:16.9px;color:#b6b6b6;transform:scaleX(1.0304);-webkit-text-stroke:.35px #b6b6b6;">demo-ogm-bp-02</span>
<div class="a" style="left:619.50px;top:780.25px;width:13.20px;height:13.20px;background:#ee2a1e;border-radius:50%;"></div>
<svg class="a" style="left:619.50px;top:780.25px;" width="13.20" height="13.20" viewBox="0 0 13.200 13.200"><path d="M6.600 3.300v4.200M6.600 9.300v1.300" fill="none" stroke="#fff" stroke-width="1.700"/></svg>
<span class="t" style="left:641.90px;top:779.59px;font-size:11.5px;line-height:14.95px;color:#dcdcdc;transform:scaleX(1.0137);-webkit-text-stroke:.35px #dcdcdc;">Offline</span>
<span class="t" style="left:860.60px;top:778.90px;font-size:13px;line-height:16.9px;color:#dadada;-webkit-text-stroke:.22px #dadada;transform:scaleX(1.0304);">N/A</span>
<span class="t" style="left:1102.70px;top:778.90px;font-size:13px;line-height:16.9px;color:#dadada;-webkit-text-stroke:.22px #dadada;transform:scaleX(1.0304);">N/A</span>
<svg class="a" style="left:1471.30px;top:777.45px;" width="19.00" height="19.00" viewBox="0 0 20 20"><path d="M2 9.700H5.450L7.600 17.400 10.800 2.100 13.300 13.600 15.300 6.450 17.300 10.200" fill="none" stroke="#fbfbfb" stroke-width="1.95" stroke-linecap="round" stroke-linejoin="round"/></svg>
<svg class="a" style="left:321.30px;top:831.70px;" width="19.00" height="19.00" viewBox="0 0 24 24"><path fill="#6a6a6a" stroke="#6a6a6a" stroke-width=".8" stroke-linejoin="round" d="M16 9V4h1c.55 0 1-.45 1-1s-.45-1-1-1H7c-.55 0-1 .45-1 1s.45 1 1 1h1v5c0 1.66-1.34 3-3 3v2h5.97v7l1 1 1-1v-7H19v-2c-1.66 0-3-1.34-3-3z"/></svg>
<span class="t" style="left:375.50px;top:822.75px;font-size:13px;line-height:16.9px;color:#e4e4e4;font-weight:700;transform:scaleX(0.9890);">Beam Pump 03</span>
<span class="t" style="left:375.50px;top:842.35px;font-size:13px;line-height:16.9px;color:#b6b6b6;transform:scaleX(1.0304);-webkit-text-stroke:.35px #b6b6b6;">demo-ogm-bp-03</span>
<div class="a" style="left:619.50px;top:834.00px;width:13.20px;height:13.20px;background:#ee2a1e;border-radius:50%;"></div>
<svg class="a" style="left:619.50px;top:834.00px;" width="13.20" height="13.20" viewBox="0 0 13.200 13.200"><path d="M6.600 3.300v4.200M6.600 9.300v1.300" fill="none" stroke="#fff" stroke-width="1.700"/></svg>
<span class="t" style="left:641.90px;top:833.34px;font-size:11.5px;line-height:14.95px;color:#dcdcdc;transform:scaleX(1.0137);-webkit-text-stroke:.35px #dcdcdc;">Offline</span>
<span class="t" style="left:860.60px;top:832.65px;font-size:13px;line-height:16.9px;color:#dadada;-webkit-text-stroke:.22px #dadada;transform:scaleX(1.0304);">N/A</span>
<span class="t" style="left:1102.70px;top:832.65px;font-size:13px;line-height:16.9px;color:#dadada;-webkit-text-stroke:.22px #dadada;transform:scaleX(1.0304);">N/A</span>
<svg class="a" style="left:1471.30px;top:831.20px;" width="19.00" height="19.00" viewBox="0 0 20 20"><path d="M2 9.700H5.450L7.600 17.400 10.800 2.100 13.300 13.600 15.300 6.450 17.300 10.200" fill="none" stroke="#fbfbfb" stroke-width="1.95" stroke-linecap="round" stroke-linejoin="round"/></svg>
<svg class="a" style="left:321.30px;top:885.45px;" width="19.00" height="19.00" viewBox="0 0 24 24"><path fill="#6a6a6a" stroke="#6a6a6a" stroke-width=".8" stroke-linejoin="round" d="M16 9V4h1c.55 0 1-.45 1-1s-.45-1-1-1H7c-.55 0-1 .45-1 1s.45 1 1 1h1v5c0 1.66-1.34 3-3 3v2h5.97v7l1 1 1-1v-7H19v-2c-1.66 0-3-1.34-3-3z"/></svg>
<span class="t" style="left:375.50px;top:876.50px;font-size:13px;line-height:16.9px;color:#e4e4e4;font-weight:700;transform:scaleX(0.9890);">beam pump mock</span>
<span class="t" style="left:375.50px;top:896.10px;font-size:13px;line-height:16.9px;color:#b6b6b6;transform:scaleX(1.0304);-webkit-text-stroke:.35px #b6b6b6;">beam-pump-mock</span>
<div class="a" style="left:619.50px;top:887.75px;width:13.20px;height:13.20px;background:#ececec;border-radius:50%;"></div>
<svg class="a" style="left:619.50px;top:887.75px;" width="13.20" height="13.20" viewBox="0 0 13.200 13.200"><path d="M6.600 3.300v4.200M6.600 9.300v1.300" fill="none" stroke="#6a6a6a" stroke-width="1.700"/></svg>
<span class="t" style="left:641.90px;top:887.09px;font-size:11.5px;line-height:14.95px;color:#dcdcdc;transform:scaleX(1.0137);-webkit-text-stroke:.35px #dcdcdc;">Unknown</span>
<span class="t" style="left:860.60px;top:886.40px;font-size:13px;line-height:16.9px;color:#dadada;-webkit-text-stroke:.22px #dadada;transform:scaleX(1.0304);">N/A</span>
<span class="t" style="left:1102.70px;top:886.40px;font-size:13px;line-height:16.9px;color:#dadada;-webkit-text-stroke:.22px #dadada;transform:scaleX(1.0304);">N/A</span>
<svg class="a" style="left:1471.30px;top:884.95px;" width="19.00" height="19.00" viewBox="0 0 20 20"><path d="M2 9.700H5.450L7.600 17.400 10.800 2.100 13.300 13.600 15.300 6.450 17.300 10.200" fill="none" stroke="#fbfbfb" stroke-width="1.95" stroke-linecap="round" stroke-linejoin="round"/></svg>
<svg class="a" style="left:321.30px;top:939.20px;" width="19.00" height="19.00" viewBox="0 0 24 24"><path fill="#6a6a6a" stroke="#6a6a6a" stroke-width=".8" stroke-linejoin="round" d="M16 9V4h1c.55 0 1-.45 1-1s-.45-1-1-1H7c-.55 0-1 .45-1 1s.45 1 1 1h1v5c0 1.66-1.34 3-3 3v2h5.97v7l1 1 1-1v-7H19v-2c-1.66 0-3-1.34-3-3z"/></svg>
<span class="t" style="left:375.50px;top:930.25px;font-size:13px;line-height:16.9px;color:#e4e4e4;font-weight:700;transform:scaleX(0.9890);">Beam Pump Well #03</span>
<span class="t" style="left:375.50px;top:949.85px;font-size:13px;line-height:16.9px;color:#b6b6b6;transform:scaleX(1.0304);-webkit-text-stroke:.35px #b6b6b6;">bp_03</span>
<div class="a" style="left:619.50px;top:941.50px;width:13.20px;height:13.20px;background:#08a868;border-radius:50%;"></div>
<svg class="a" style="left:619.50px;top:941.50px;" width="13.20" height="13.20" viewBox="0 0 13.200 13.200"><path d="M3.500 6.900l2.200 2.200 4.200-4.400" fill="none" stroke="#fff" stroke-width="1.700" stroke-linecap="round" stroke-linejoin="round"/></svg>
<span class="t" style="left:641.90px;top:940.84px;font-size:11.5px;line-height:14.95px;color:#dcdcdc;transform:scaleX(1.0137);-webkit-text-stroke:.35px #dcdcdc;">Online</span>
<span class="t" style="left:860.60px;top:940.15px;font-size:13px;line-height:16.9px;color:#dadada;-webkit-text-stroke:.22px #dadada;transform:scaleX(1.0304);">Motor Speed Control</span>
<span class="t" style="left:1102.70px;top:940.15px;font-size:13px;line-height:16.9px;color:#dadada;-webkit-text-stroke:.22px #dadada;transform:scaleX(1.0304);">N/A</span>
<svg class="a" style="left:1471.30px;top:938.70px;" width="19.00" height="19.00" viewBox="0 0 20 20"><path d="M2 9.700H5.450L7.600 17.400 10.800 2.100 13.300 13.600 15.300 6.450 17.300 10.200" fill="none" stroke="#fbfbfb" stroke-width="1.95" stroke-linecap="round" stroke-linejoin="round"/></svg>
<svg class="a" style="left:321.30px;top:992.95px;" width="19.00" height="19.00" viewBox="0 0 24 24"><path fill="#6a6a6a" stroke="#6a6a6a" stroke-width=".8" stroke-linejoin="round" d="M16 9V4h1c.55 0 1-.45 1-1s-.45-1-1-1H7c-.55 0-1 .45-1 1s.45 1 1 1h1v5c0 1.66-1.34 3-3 3v2h5.97v7l1 1 1-1v-7H19v-2c-1.66 0-3-1.34-3-3z"/></svg>
<span class="t" style="left:375.50px;top:984.00px;font-size:13px;line-height:16.9px;color:#e4e4e4;font-weight:700;transform:scaleX(0.9890);">Beam Pump Well #04</span>
<span class="t" style="left:375.50px;top:1003.60px;font-size:13px;line-height:16.9px;color:#b6b6b6;transform:scaleX(1.0304);-webkit-text-stroke:.35px #b6b6b6;">bp_04</span>
<div class="a" style="left:619.50px;top:995.25px;width:13.20px;height:13.20px;background:#08a868;border-radius:50%;"></div>
<svg class="a" style="left:619.50px;top:995.25px;" width="13.20" height="13.20" viewBox="0 0 13.200 13.200"><path d="M3.500 6.900l2.200 2.200 4.200-4.400" fill="none" stroke="#fff" stroke-width="1.700" stroke-linecap="round" stroke-linejoin="round"/></svg>
<span class="t" style="left:641.90px;top:994.59px;font-size:11.5px;line-height:14.95px;color:#dcdcdc;transform:scaleX(1.0137);-webkit-text-stroke:.35px #dcdcdc;">Online</span>
<span class="t" style="left:860.60px;top:993.90px;font-size:13px;line-height:16.9px;color:#dadada;-webkit-text-stroke:.22px #dadada;transform:scaleX(1.0304);">Motor Speed Control, +1</span>
<span class="t" style="left:1102.70px;top:993.90px;font-size:13px;line-height:16.9px;color:#dadada;-webkit-text-stroke:.22px #dadada;transform:scaleX(1.0304);">N/A</span>
<svg class="a" style="left:1471.30px;top:992.45px;" width="19.00" height="19.00" viewBox="0 0 20 20"><path d="M2 9.700H5.450L7.600 17.400 10.800 2.100 13.300 13.600 15.300 6.450 17.300 10.200" fill="none" stroke="#fbfbfb" stroke-width="1.95" stroke-linecap="round" stroke-linejoin="round"/></svg>
<span class="t" style="left:300.50px;top:1052.85px;font-size:13px;line-height:16.9px;color:#adadad;-webkit-text-stroke:.22px #adadad;transform:scaleX(1.0117);">Show</span>
<div class="a" style="left:340.80px;top:1047.40px;width:96.10px;height:26.40px;background:#3a3a3a;border-radius:3px;"></div>
<span class="t" style="left:351.90px;top:1052.65px;font-size:13px;line-height:16.9px;color:#999999;-webkit-text-stroke:.22px #999999;transform:scaleX(1.0197);">64 items</span>
<svg class="a" style="left:414.40px;top:1058.40px;" width="9.00" height="5.00" viewBox="0 0 9 5"><path d="M0.300 0.300h8.400L4.500 4.700z" fill="#9a9a9a"/></svg>
<span class="t" style="left:444.70px;top:1052.85px;font-size:13px;line-height:16.9px;color:#adadad;-webkit-text-stroke:.22px #adadad;transform:scaleX(1.0385);">per page</span>
<span class="t" style="left:1195.50px;top:1053.65px;font-size:13px;line-height:16.9px;color:#a4a4a4;-webkit-text-stroke:.22px #a4a4a4;transform:scaleX(1.0216);">Showing 1 to 58 items of 58</span>
<svg class="a" style="left:1382.60px;top:1055.90px;" width="13.00" height="10.40" viewBox="0 0 13 10.400"><path d="M5.2 0.900L1.0 5.200l4.200 4.300M10.2 0.900L6.0 5.200l4.200 4.300" fill="none" stroke="#868686" stroke-width="2.100" stroke-linejoin="miter"/></svg>
<svg class="a" style="left:1415.80px;top:1055.90px;" width="8.00" height="10.40" viewBox="0 0 8 10.400"><path d="M5.2 0.900L1.0 5.200l4.200 4.300" fill="none" stroke="#868686" stroke-width="2.100" stroke-linejoin="miter"/></svg>
<span class="t" style="left:1447.60px;top:1052.65px;font-size:13.6px;line-height:17.68px;color:#f6f6f6;-webkit-text-stroke:.3px #f6f6f6;">1</span>
<svg class="a" style="left:1477.60px;top:1055.90px;" width="8.00" height="10.40" viewBox="0 0 8 10.400"><path d="M1.0 0.900l4.200 4.300-4.200 4.300" fill="none" stroke="#868686" stroke-width="2.100" stroke-linejoin="miter"/></svg>
<svg class="a" style="left:1505.60px;top:1055.90px;" width="13.00" height="10.40" viewBox="0 0 13 10.400"><path d="M1.0 0.900l4.200 4.300-4.200 4.300M6.0 0.900l4.200 4.300-4.200 4.300" fill="none" stroke="#868686" stroke-width="2.100" stroke-linejoin="miter"/></svg>
<div class="a" style="left:31px;top:22px;width:1517px;height:347px;background:rgba(255,255,255,.7);z-index:20"></div><div class="a" style="left:31px;top:464px;width:1517px;height:633px;background:rgba(255,255,255,.7);z-index:20"></div><div class="a" style="left:31px;top:369px;width:1431px;height:95px;background:rgba(255,255,255,.7);z-index:20"></div>
</div></div>
<div class="a" style="left:1457px;top:364px;width:111px;height:105px;border:10px solid #0059cb;box-sizing:border-box;z-index:2"></div>
<svg class="a" style="left:0;top:0;z-index:3" width="1580" height="1120" viewBox="0 0 1580 1120"><path d="M1118.2 625.6L1415.35 424.25" stroke="#0059cb" stroke-width="12.300" stroke-linecap="round" fill="none"/><path d="M1438.1 408.75L1386.6 416.6L1407.9 429.3L1410.0 453.5Z" fill="#0059cb" stroke="#0059cb" stroke-width="9.400" stroke-linejoin="round"/></svg>
</body></html>
